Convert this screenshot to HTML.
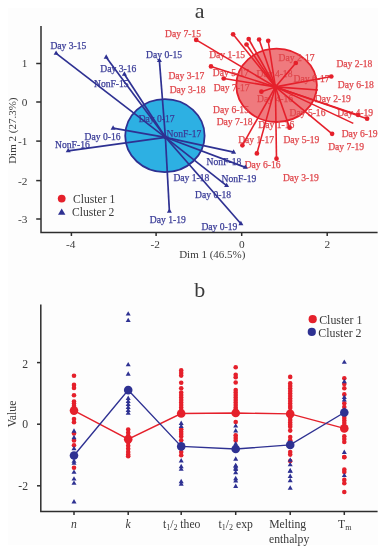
<!DOCTYPE html>
<html><head><meta charset="utf-8"><title>Cluster analysis figure</title>
<style>
html,body{margin:0;padding:0;background:#fff;}
body{width:385px;height:550px;overflow:hidden;}
svg{display:block;}
</style></head>
<body>
<svg width="385" height="550" viewBox="0 0 385 550">
<rect x="0" y="0" width="385" height="550" fill="#ffffff"/>
<rect x="8" y="8" width="370" height="537" fill="#fdfdfd"/>
<ellipse cx="164.9" cy="135.7" rx="39.7" ry="36.5" fill="#2db0e3" stroke="#2e3192" stroke-width="1.8"/>
<ellipse cx="276.6" cy="85.3" rx="40.3" ry="36.7" fill="#ef7a7e" stroke="#e5202b" stroke-width="1.8"/>
<g font-family="'Liberation Serif', serif" font-size="9.6" fill="#3b3d98" stroke="#3b3d98" stroke-width="0.25">
<text x="50.4" y="49.4">Day 3-15</text>
<text x="100.3" y="71.5">Day 3-16</text>
<text x="94.0" y="87.1">NonF-15</text>
<text x="146.1" y="58.0">Day 0-15</text>
<text x="138.7" y="121.7">Day 0-17</text>
<text x="166.6" y="136.7">NonF-17</text>
<text x="84.6" y="140.2">Day 0-16</text>
<text x="55.1" y="148.4">NonF-16</text>
<text x="206.6" y="164.5">NonF-18</text>
<text x="221.6" y="182.3">NonF-19</text>
<text x="173.4" y="181.3">Day 1-18</text>
<text x="195.1" y="198.4">Day 0-18</text>
<text x="149.8" y="223.3">Day 1-19</text>
<text x="201.4" y="230.4">Day 0-19</text>
</g>
<g font-family="'Liberation Serif', serif" font-size="9.6" fill="#e0474c" stroke="#e0474c" stroke-width="0.25">
<text x="165.0" y="37.2">Day 7-15</text>
<text x="209.2" y="57.7">Day 1-15</text>
<text x="212.8" y="76.0">Day 5-17</text>
<text x="213.7" y="90.9">Day 7-17</text>
<text x="168.4" y="78.5">Day 3-17</text>
<text x="169.7" y="93.0">Day 3-18</text>
<text x="278.6" y="61.4">Day 2-17</text>
<text x="256.5" y="77.4">Day 4-18</text>
<text x="293.6" y="81.8">Day 6-17</text>
<text x="336.4" y="66.5">Day 2-18</text>
<text x="337.8" y="88.0">Day 6-18</text>
<text x="257.1" y="102.1">Day 4-16</text>
<text x="314.8" y="101.8">Day 2-19</text>
<text x="289.5" y="116.3">Day 5-16</text>
<text x="337.2" y="115.6">Day 4-19</text>
<text x="213.0" y="112.8">Day 6-15</text>
<text x="216.7" y="125.2">Day 7-18</text>
<text x="258.3" y="127.5">Day 1-16</text>
<text x="341.7" y="136.5">Day 6-19</text>
<text x="238.2" y="142.7">Day 1-17</text>
<text x="283.4" y="142.5">Day 5-19</text>
<text x="328.2" y="150.0">Day 7-19</text>
<text x="244.7" y="168.0">Day 6-16</text>
<text x="282.9" y="181.0">Day 3-19</text>
</g>
<line x1="165.4" y1="137.3" x2="56.1" y2="53.4" stroke="#2e3192" stroke-width="1.7"/>
<line x1="165.4" y1="137.3" x2="106.2" y2="57.3" stroke="#2e3192" stroke-width="1.7"/>
<line x1="165.4" y1="137.3" x2="124.4" y2="74.2" stroke="#2e3192" stroke-width="1.7"/>
<line x1="165.4" y1="137.3" x2="159.4" y2="60.6" stroke="#2e3192" stroke-width="1.7"/>
<line x1="165.4" y1="137.3" x2="113.1" y2="128.2" stroke="#2e3192" stroke-width="1.7"/>
<line x1="165.4" y1="137.3" x2="68.2" y2="150.9" stroke="#2e3192" stroke-width="1.7"/>
<line x1="165.4" y1="137.3" x2="233.6" y2="152.2" stroke="#2e3192" stroke-width="1.7"/>
<line x1="165.4" y1="137.3" x2="245.3" y2="167.4" stroke="#2e3192" stroke-width="1.7"/>
<line x1="165.4" y1="137.3" x2="226.6" y2="185.6" stroke="#2e3192" stroke-width="1.7"/>
<line x1="165.4" y1="137.3" x2="240.9" y2="223.7" stroke="#2e3192" stroke-width="1.7"/>
<line x1="165.4" y1="137.3" x2="169.4" y2="211.4" stroke="#2e3192" stroke-width="1.7"/>
<line x1="275.4" y1="86.9" x2="196.2" y2="39.9" stroke="#e5202b" stroke-width="1.6"/>
<line x1="275.4" y1="86.9" x2="233.1" y2="34.3" stroke="#e5202b" stroke-width="1.6"/>
<line x1="275.4" y1="86.9" x2="248.7" y2="39.0" stroke="#e5202b" stroke-width="1.6"/>
<line x1="275.4" y1="86.9" x2="246.5" y2="44.5" stroke="#e5202b" stroke-width="1.6"/>
<line x1="275.4" y1="86.9" x2="259.1" y2="39.5" stroke="#e5202b" stroke-width="1.6"/>
<line x1="275.4" y1="86.9" x2="268.2" y2="40.8" stroke="#e5202b" stroke-width="1.6"/>
<line x1="275.4" y1="86.9" x2="295.8" y2="63.0" stroke="#e5202b" stroke-width="1.6"/>
<line x1="275.4" y1="86.9" x2="331.3" y2="76.5" stroke="#e5202b" stroke-width="1.6"/>
<line x1="275.4" y1="86.9" x2="211.0" y2="66.4" stroke="#e5202b" stroke-width="1.6"/>
<line x1="275.4" y1="86.9" x2="223.7" y2="78.5" stroke="#e5202b" stroke-width="1.6"/>
<line x1="275.4" y1="86.9" x2="261.4" y2="91.7" stroke="#e5202b" stroke-width="1.6"/>
<line x1="275.4" y1="86.9" x2="358.1" y2="115.0" stroke="#e5202b" stroke-width="1.6"/>
<line x1="275.4" y1="86.9" x2="367.1" y2="118.7" stroke="#e5202b" stroke-width="1.6"/>
<line x1="275.4" y1="86.9" x2="332.1" y2="133.8" stroke="#e5202b" stroke-width="1.6"/>
<line x1="275.4" y1="86.9" x2="289.6" y2="127.7" stroke="#e5202b" stroke-width="1.6"/>
<line x1="275.4" y1="86.9" x2="276.5" y2="158.7" stroke="#e5202b" stroke-width="1.6"/>
<line x1="275.4" y1="86.9" x2="256.9" y2="153.4" stroke="#e5202b" stroke-width="1.6"/>
<line x1="275.4" y1="86.9" x2="242.4" y2="145.3" stroke="#e5202b" stroke-width="1.6"/>
<line x1="275.4" y1="86.9" x2="353.3" y2="123.4" stroke="#e5202b" stroke-width="1.6"/>
<line x1="275.4" y1="86.9" x2="318" y2="90.0" stroke="#e5202b" stroke-width="1.6"/>
<path d="M53.60 54.87L58.60 54.87L56.10 50.47Z" fill="#2e3192"/>
<path d="M103.70 58.77L108.70 58.77L106.20 54.37Z" fill="#2e3192"/>
<path d="M121.90 75.67L126.90 75.67L124.40 71.27Z" fill="#2e3192"/>
<path d="M156.90 62.07L161.90 62.07L159.40 57.67Z" fill="#2e3192"/>
<path d="M110.60 129.67L115.60 129.67L113.10 125.27Z" fill="#2e3192"/>
<path d="M65.70 152.37L70.70 152.37L68.20 147.97Z" fill="#2e3192"/>
<path d="M231.10 153.67L236.10 153.67L233.60 149.27Z" fill="#2e3192"/>
<path d="M242.80 168.87L247.80 168.87L245.30 164.47Z" fill="#2e3192"/>
<path d="M224.10 187.07L229.10 187.07L226.60 182.67Z" fill="#2e3192"/>
<path d="M238.40 225.17L243.40 225.17L240.90 220.77Z" fill="#2e3192"/>
<path d="M166.90 212.87L171.90 212.87L169.40 208.47Z" fill="#2e3192"/>
<circle cx="196.2" cy="39.9" r="2.35" fill="#e5202b"/>
<circle cx="233.1" cy="34.3" r="2.35" fill="#e5202b"/>
<circle cx="248.7" cy="39.0" r="2.35" fill="#e5202b"/>
<circle cx="246.5" cy="44.5" r="2.35" fill="#e5202b"/>
<circle cx="259.1" cy="39.5" r="2.35" fill="#e5202b"/>
<circle cx="268.2" cy="40.8" r="2.35" fill="#e5202b"/>
<circle cx="295.8" cy="63.0" r="2.35" fill="#e5202b"/>
<circle cx="331.3" cy="76.5" r="2.35" fill="#e5202b"/>
<circle cx="211.0" cy="66.4" r="2.35" fill="#e5202b"/>
<circle cx="223.7" cy="78.5" r="2.35" fill="#e5202b"/>
<circle cx="261.4" cy="91.7" r="2.35" fill="#e5202b"/>
<circle cx="358.1" cy="115.0" r="2.35" fill="#e5202b"/>
<circle cx="367.1" cy="118.7" r="2.35" fill="#e5202b"/>
<circle cx="332.1" cy="133.8" r="2.35" fill="#e5202b"/>
<circle cx="289.6" cy="127.7" r="2.35" fill="#e5202b"/>
<circle cx="276.5" cy="158.7" r="2.35" fill="#e5202b"/>
<circle cx="256.9" cy="153.4" r="2.35" fill="#e5202b"/>
<circle cx="242.4" cy="145.3" r="2.35" fill="#e5202b"/>
<circle cx="165.4" cy="137.3" r="2" fill="#2e3192"/>
<circle cx="275.4" cy="86.9" r="2.6" fill="#e5202b"/>
<path d="M41 26V232.5H377.6" fill="none" stroke="#2e2e2e" stroke-width="1.5"/>
<line x1="36.2" y1="63.5" x2="41" y2="63.5" stroke="#2e2e2e" stroke-width="1.5"/>
<line x1="36.2" y1="102.0" x2="41" y2="102.0" stroke="#2e2e2e" stroke-width="1.5"/>
<line x1="36.2" y1="141.1" x2="41" y2="141.1" stroke="#2e2e2e" stroke-width="1.5"/>
<line x1="36.2" y1="180.6" x2="41" y2="180.6" stroke="#2e2e2e" stroke-width="1.5"/>
<line x1="36.2" y1="219.0" x2="41" y2="219.0" stroke="#2e2e2e" stroke-width="1.5"/>
<line x1="71.4" y1="232.5" x2="71.4" y2="236" stroke="#2e2e2e" stroke-width="1.5"/>
<line x1="156.1" y1="232.5" x2="156.1" y2="236" stroke="#2e2e2e" stroke-width="1.5"/>
<line x1="241.7" y1="232.5" x2="241.7" y2="236" stroke="#2e2e2e" stroke-width="1.5"/>
<line x1="327.2" y1="232.5" x2="327.2" y2="236" stroke="#2e2e2e" stroke-width="1.5"/>
<g font-family="'Liberation Serif', serif" font-size="11.3" fill="#3a3a3a">
<text x="27.4" y="67.4" text-anchor="end">1</text>
<text x="27.4" y="105.9" text-anchor="end">0</text>
<text x="27.4" y="145.0" text-anchor="end">-1</text>
<text x="27.4" y="184.5" text-anchor="end">-2</text>
<text x="27.4" y="222.9" text-anchor="end">-3</text>
<text x="70.6" y="248.2" text-anchor="middle">-4</text>
<text x="155.3" y="248.2" text-anchor="middle">-2</text>
<text x="241.9" y="248.2" text-anchor="middle">0</text>
<text x="327.4" y="248.2" text-anchor="middle">2</text>
</g>
<g font-family="'Liberation Serif', serif" font-size="11" fill="#3a3a3a">
<text x="212.3" y="258.2" text-anchor="middle">Dim 1 (46.5%)</text>
<text transform="translate(16.2 130.7) rotate(-90)" text-anchor="middle">Dim 2 (27.3%)</text>
</g>
<text x="199.6" y="17.9" text-anchor="middle" font-family="'Liberation Serif', serif" font-size="22" fill="#3a3a3a">a</text>
<circle cx="61.7" cy="198.6" r="3.9" fill="#e5202b"/>
<path d="M58.00 214.67L65.40 214.67L61.70 208.47Z" fill="#2e3192"/>
<g font-family="'Liberation Serif', serif" font-size="11.6" fill="#3a3a3a">
<text x="73.0" y="202.5">Cluster 1</text>
<text x="72.0" y="216.0">Cluster 2</text>
</g>
<text x="199.8" y="296.5" text-anchor="middle" font-family="'Liberation Serif', serif" font-size="22" fill="#3a3a3a">b</text>
<path d="M40.8 304.5V511.5H377.6" fill="none" stroke="#2e2e2e" stroke-width="1.5"/>
<line x1="37" y1="362.6" x2="40.8" y2="362.6" stroke="#2e2e2e" stroke-width="1.5"/>
<line x1="37" y1="424.2" x2="40.8" y2="424.2" stroke="#2e2e2e" stroke-width="1.5"/>
<line x1="37" y1="485.8" x2="40.8" y2="485.8" stroke="#2e2e2e" stroke-width="1.5"/>
<line x1="74.0" y1="511.5" x2="74.0" y2="515" stroke="#2e2e2e" stroke-width="1.5"/>
<line x1="128.2" y1="511.5" x2="128.2" y2="515" stroke="#2e2e2e" stroke-width="1.5"/>
<line x1="181.2" y1="511.5" x2="181.2" y2="515" stroke="#2e2e2e" stroke-width="1.5"/>
<line x1="235.7" y1="511.5" x2="235.7" y2="515" stroke="#2e2e2e" stroke-width="1.5"/>
<line x1="290.2" y1="511.5" x2="290.2" y2="515" stroke="#2e2e2e" stroke-width="1.5"/>
<line x1="344.3" y1="511.5" x2="344.3" y2="515" stroke="#2e2e2e" stroke-width="1.5"/>
<circle cx="74.0" cy="375.8" r="2.3" fill="#e5202b"/>
<circle cx="74.0" cy="384.9" r="2.3" fill="#e5202b"/>
<circle cx="74.0" cy="387.9" r="2.3" fill="#e5202b"/>
<circle cx="74.0" cy="395.3" r="2.3" fill="#e5202b"/>
<circle cx="74.0" cy="401.6" r="2.3" fill="#e5202b"/>
<circle cx="74.0" cy="403.5" r="2.3" fill="#e5202b"/>
<circle cx="74.0" cy="406.1" r="2.3" fill="#e5202b"/>
<circle cx="74.0" cy="408" r="2.3" fill="#e5202b"/>
<circle cx="74.0" cy="419.1" r="2.3" fill="#e5202b"/>
<circle cx="74.0" cy="422.3" r="2.3" fill="#e5202b"/>
<circle cx="74.0" cy="433.4" r="2.3" fill="#e5202b"/>
<circle cx="74.0" cy="440.5" r="2.3" fill="#e5202b"/>
<circle cx="74.0" cy="445.3" r="2.3" fill="#e5202b"/>
<circle cx="74.0" cy="467.7" r="2.3" fill="#e5202b"/>
<circle cx="128.2" cy="429.6" r="2.3" fill="#e5202b"/>
<circle cx="128.2" cy="432.7" r="2.3" fill="#e5202b"/>
<circle cx="128.2" cy="435.8" r="2.3" fill="#e5202b"/>
<circle cx="128.2" cy="442.6" r="2.3" fill="#e5202b"/>
<circle cx="128.2" cy="445.7" r="2.3" fill="#e5202b"/>
<circle cx="128.2" cy="448.8" r="2.3" fill="#e5202b"/>
<circle cx="128.2" cy="451.9" r="2.3" fill="#e5202b"/>
<circle cx="128.2" cy="454.6" r="2.3" fill="#e5202b"/>
<circle cx="128.2" cy="456.2" r="2.3" fill="#e5202b"/>
<circle cx="181.2" cy="370.4" r="2.3" fill="#e5202b"/>
<circle cx="181.2" cy="373" r="2.3" fill="#e5202b"/>
<circle cx="181.2" cy="375.6" r="2.3" fill="#e5202b"/>
<circle cx="181.2" cy="382.7" r="2.3" fill="#e5202b"/>
<circle cx="181.2" cy="388.3" r="2.3" fill="#e5202b"/>
<circle cx="181.2" cy="392.5" r="2.3" fill="#e5202b"/>
<circle cx="181.2" cy="395" r="2.3" fill="#e5202b"/>
<circle cx="181.2" cy="397.5" r="2.3" fill="#e5202b"/>
<circle cx="181.2" cy="400" r="2.3" fill="#e5202b"/>
<circle cx="181.2" cy="402.5" r="2.3" fill="#e5202b"/>
<circle cx="181.2" cy="405" r="2.3" fill="#e5202b"/>
<circle cx="181.2" cy="407.5" r="2.3" fill="#e5202b"/>
<circle cx="181.2" cy="410" r="2.3" fill="#e5202b"/>
<circle cx="181.2" cy="429.3" r="2.3" fill="#e5202b"/>
<circle cx="181.2" cy="431.7" r="2.3" fill="#e5202b"/>
<circle cx="181.2" cy="434" r="2.3" fill="#e5202b"/>
<circle cx="181.2" cy="436.4" r="2.3" fill="#e5202b"/>
<circle cx="181.2" cy="440.3" r="2.3" fill="#e5202b"/>
<circle cx="181.2" cy="452" r="2.3" fill="#e5202b"/>
<circle cx="181.2" cy="455.3" r="2.3" fill="#e5202b"/>
<circle cx="235.7" cy="367.3" r="2.3" fill="#e5202b"/>
<circle cx="235.7" cy="374.7" r="2.3" fill="#e5202b"/>
<circle cx="235.7" cy="377.3" r="2.3" fill="#e5202b"/>
<circle cx="235.7" cy="382.5" r="2.3" fill="#e5202b"/>
<circle cx="235.7" cy="390" r="2.3" fill="#e5202b"/>
<circle cx="235.7" cy="392.5" r="2.3" fill="#e5202b"/>
<circle cx="235.7" cy="395" r="2.3" fill="#e5202b"/>
<circle cx="235.7" cy="397.5" r="2.3" fill="#e5202b"/>
<circle cx="235.7" cy="400" r="2.3" fill="#e5202b"/>
<circle cx="235.7" cy="402.5" r="2.3" fill="#e5202b"/>
<circle cx="235.7" cy="405" r="2.3" fill="#e5202b"/>
<circle cx="235.7" cy="407.5" r="2.3" fill="#e5202b"/>
<circle cx="235.7" cy="409.5" r="2.3" fill="#e5202b"/>
<circle cx="235.7" cy="422" r="2.3" fill="#e5202b"/>
<circle cx="235.7" cy="435.3" r="2.3" fill="#e5202b"/>
<circle cx="235.7" cy="437.9" r="2.3" fill="#e5202b"/>
<circle cx="235.7" cy="440.5" r="2.3" fill="#e5202b"/>
<circle cx="290.2" cy="376.9" r="2.3" fill="#e5202b"/>
<circle cx="290.2" cy="383.4" r="2.3" fill="#e5202b"/>
<circle cx="290.2" cy="386" r="2.3" fill="#e5202b"/>
<circle cx="290.2" cy="388.5" r="2.3" fill="#e5202b"/>
<circle cx="290.2" cy="391" r="2.3" fill="#e5202b"/>
<circle cx="290.2" cy="393.5" r="2.3" fill="#e5202b"/>
<circle cx="290.2" cy="396" r="2.3" fill="#e5202b"/>
<circle cx="290.2" cy="398.5" r="2.3" fill="#e5202b"/>
<circle cx="290.2" cy="401" r="2.3" fill="#e5202b"/>
<circle cx="290.2" cy="403.5" r="2.3" fill="#e5202b"/>
<circle cx="290.2" cy="406" r="2.3" fill="#e5202b"/>
<circle cx="290.2" cy="408" r="2.3" fill="#e5202b"/>
<circle cx="290.2" cy="417.6" r="2.3" fill="#e5202b"/>
<circle cx="290.2" cy="420" r="2.3" fill="#e5202b"/>
<circle cx="290.2" cy="422.5" r="2.3" fill="#e5202b"/>
<circle cx="290.2" cy="424.7" r="2.3" fill="#e5202b"/>
<circle cx="290.2" cy="426.7" r="2.3" fill="#e5202b"/>
<circle cx="290.2" cy="430.6" r="2.3" fill="#e5202b"/>
<circle cx="290.2" cy="437.1" r="2.3" fill="#e5202b"/>
<circle cx="290.2" cy="440.3" r="2.3" fill="#e5202b"/>
<circle cx="290.2" cy="452" r="2.3" fill="#e5202b"/>
<circle cx="290.2" cy="454.6" r="2.3" fill="#e5202b"/>
<circle cx="290.2" cy="461.1" r="2.3" fill="#e5202b"/>
<circle cx="344.3" cy="378.3" r="2.3" fill="#e5202b"/>
<circle cx="344.3" cy="384" r="2.3" fill="#e5202b"/>
<circle cx="344.3" cy="388.3" r="2.3" fill="#e5202b"/>
<circle cx="344.3" cy="394.4" r="2.3" fill="#e5202b"/>
<circle cx="344.3" cy="403.2" r="2.3" fill="#e5202b"/>
<circle cx="344.3" cy="407.1" r="2.3" fill="#e5202b"/>
<circle cx="344.3" cy="415.4" r="2.3" fill="#e5202b"/>
<circle cx="344.3" cy="418" r="2.3" fill="#e5202b"/>
<circle cx="344.3" cy="420.5" r="2.3" fill="#e5202b"/>
<circle cx="344.3" cy="423" r="2.3" fill="#e5202b"/>
<circle cx="344.3" cy="426.4" r="2.3" fill="#e5202b"/>
<circle cx="344.3" cy="436.2" r="2.3" fill="#e5202b"/>
<circle cx="344.3" cy="439" r="2.3" fill="#e5202b"/>
<circle cx="344.3" cy="442" r="2.3" fill="#e5202b"/>
<circle cx="344.3" cy="457" r="2.3" fill="#e5202b"/>
<circle cx="344.3" cy="457.3" r="2.3" fill="#e5202b"/>
<circle cx="344.3" cy="469.5" r="2.3" fill="#e5202b"/>
<circle cx="344.3" cy="471.9" r="2.3" fill="#e5202b"/>
<circle cx="344.3" cy="479.9" r="2.3" fill="#e5202b"/>
<circle cx="344.3" cy="483.3" r="2.3" fill="#e5202b"/>
<circle cx="344.3" cy="492" r="2.3" fill="#e5202b"/>
<path d="M71.50 432.77L76.50 432.77L74.00 428.37Z" fill="#2e3192"/>
<path d="M71.50 439.27L76.50 439.27L74.00 434.87Z" fill="#2e3192"/>
<path d="M71.50 450.27L76.50 450.27L74.00 445.87Z" fill="#2e3192"/>
<path d="M71.50 462.77L76.50 462.77L74.00 458.37Z" fill="#2e3192"/>
<path d="M71.50 464.77L76.50 464.77L74.00 460.37Z" fill="#2e3192"/>
<path d="M71.50 473.87L76.50 473.87L74.00 469.47Z" fill="#2e3192"/>
<path d="M71.50 480.57L76.50 480.57L74.00 476.17Z" fill="#2e3192"/>
<path d="M71.50 484.87L76.50 484.87L74.00 480.47Z" fill="#2e3192"/>
<path d="M71.50 503.47L76.50 503.47L74.00 499.07Z" fill="#2e3192"/>
<path d="M125.70 315.57L130.70 315.57L128.20 311.17Z" fill="#2e3192"/>
<path d="M125.70 322.07L130.70 322.07L128.20 317.67Z" fill="#2e3192"/>
<path d="M125.70 366.37L130.70 366.37L128.20 361.97Z" fill="#2e3192"/>
<path d="M125.70 375.77L130.70 375.77L128.20 371.37Z" fill="#2e3192"/>
<path d="M125.70 399.97L130.70 399.97L128.20 395.57Z" fill="#2e3192"/>
<path d="M125.70 402.97L130.70 402.97L128.20 398.57Z" fill="#2e3192"/>
<path d="M125.70 405.97L130.70 405.97L128.20 401.57Z" fill="#2e3192"/>
<path d="M125.70 408.97L130.70 408.97L128.20 404.57Z" fill="#2e3192"/>
<path d="M125.70 411.97L130.70 411.97L128.20 407.57Z" fill="#2e3192"/>
<path d="M125.70 414.77L130.70 414.77L128.20 410.37Z" fill="#2e3192"/>
<path d="M178.70 424.97L183.70 424.97L181.20 420.57Z" fill="#2e3192"/>
<path d="M178.70 427.97L183.70 427.97L181.20 423.57Z" fill="#2e3192"/>
<path d="M178.70 462.47L183.70 462.47L181.20 458.07Z" fill="#2e3192"/>
<path d="M178.70 468.27L183.70 468.27L181.20 463.87Z" fill="#2e3192"/>
<path d="M178.70 470.87L183.70 470.87L181.20 466.47Z" fill="#2e3192"/>
<path d="M178.70 483.17L183.70 483.17L181.20 478.77Z" fill="#2e3192"/>
<path d="M178.70 485.77L183.70 485.77L181.20 481.37Z" fill="#2e3192"/>
<path d="M233.20 427.57L238.20 427.57L235.70 423.17Z" fill="#2e3192"/>
<path d="M233.20 432.47L238.20 432.47L235.70 428.07Z" fill="#2e3192"/>
<path d="M233.20 445.47L238.20 445.47L235.70 441.07Z" fill="#2e3192"/>
<path d="M233.20 460.67L238.20 460.67L235.70 456.27Z" fill="#2e3192"/>
<path d="M233.20 467.17L238.20 467.17L235.70 462.77Z" fill="#2e3192"/>
<path d="M233.20 469.77L238.20 469.77L235.70 465.37Z" fill="#2e3192"/>
<path d="M233.20 467.77L238.20 467.77L235.70 463.37Z" fill="#2e3192"/>
<path d="M233.20 471.07L238.20 471.07L235.70 466.67Z" fill="#2e3192"/>
<path d="M233.20 474.27L238.20 474.27L235.70 469.87Z" fill="#2e3192"/>
<path d="M233.20 480.17L238.20 480.17L235.70 475.77Z" fill="#2e3192"/>
<path d="M233.20 482.47L238.20 482.47L235.70 478.07Z" fill="#2e3192"/>
<path d="M233.20 487.97L238.20 487.97L235.70 483.57Z" fill="#2e3192"/>
<path d="M287.70 461.77L292.70 461.77L290.20 457.37Z" fill="#2e3192"/>
<path d="M287.70 466.37L292.70 466.37L290.20 461.97Z" fill="#2e3192"/>
<path d="M287.70 472.77L292.70 472.77L290.20 468.37Z" fill="#2e3192"/>
<path d="M287.70 472.47L292.70 472.47L290.20 468.07Z" fill="#2e3192"/>
<path d="M287.70 477.97L292.70 477.97L290.20 473.57Z" fill="#2e3192"/>
<path d="M287.70 482.27L292.70 482.27L290.20 477.87Z" fill="#2e3192"/>
<path d="M287.70 489.67L292.70 489.67L290.20 485.27Z" fill="#2e3192"/>
<path d="M341.80 363.87L346.80 363.87L344.30 359.47Z" fill="#2e3192"/>
<path d="M341.80 383.17L346.80 383.17L344.30 378.77Z" fill="#2e3192"/>
<path d="M341.80 398.97L346.80 398.97L344.30 394.57Z" fill="#2e3192"/>
<path d="M341.80 401.57L346.80 401.57L344.30 397.17Z" fill="#2e3192"/>
<path d="M341.80 411.67L346.80 411.67L344.30 407.27Z" fill="#2e3192"/>
<path d="M341.80 453.97L346.80 453.97L344.30 449.57Z" fill="#2e3192"/>
<path d="M341.80 477.07L346.80 477.07L344.30 472.67Z" fill="#2e3192"/>
<polyline points="74.0,410.6 128.2,439.2 181.2,413.5 235.7,413.0 290.2,413.9 344.3,428.4" fill="none" stroke="#e5202b" stroke-width="1.4"/>
<polyline points="74.0,455.5 128.2,390.1 181.2,446.4 235.7,449.0 290.2,444.9 344.3,412.5" fill="none" stroke="#2e3192" stroke-width="1.4"/>
<circle cx="74.0" cy="410.6" r="4.3" fill="#e5202b"/>
<circle cx="128.2" cy="439.2" r="4.3" fill="#e5202b"/>
<circle cx="181.2" cy="413.5" r="4.3" fill="#e5202b"/>
<circle cx="235.7" cy="413.0" r="4.3" fill="#e5202b"/>
<circle cx="290.2" cy="413.9" r="4.3" fill="#e5202b"/>
<circle cx="344.3" cy="428.4" r="4.3" fill="#e5202b"/>
<circle cx="74.0" cy="455.5" r="4.3" fill="#2e3192"/>
<circle cx="128.2" cy="390.1" r="4.3" fill="#2e3192"/>
<circle cx="181.2" cy="446.4" r="4.3" fill="#2e3192"/>
<circle cx="235.7" cy="449.0" r="4.3" fill="#2e3192"/>
<circle cx="290.2" cy="444.9" r="4.3" fill="#2e3192"/>
<circle cx="344.3" cy="412.5" r="4.3" fill="#2e3192"/>
<circle cx="312.7" cy="319.2" r="4.1" fill="#e5202b"/>
<circle cx="311.8" cy="331.9" r="4.1" fill="#2e3192"/>
<g font-family="'Liberation Serif', serif" font-size="11.9" fill="#3a3a3a">
<text x="319.2" y="323.9">Cluster 1</text>
<text x="318.3" y="336.6">Cluster 2</text>
</g>
<g font-family="'Liberation Serif', serif" font-size="11.7" fill="#3a3a3a">
<text x="28" y="367.9" text-anchor="end">2</text>
<text x="28" y="428.0" text-anchor="end">0</text>
<text x="28" y="489.6" text-anchor="end">-2</text>
<text transform="translate(15.7 414) rotate(-90)" text-anchor="middle">Value</text>
<text x="74.0" y="528.4" text-anchor="middle" font-style="italic">n</text>
<text x="128.2" y="528.4" text-anchor="middle" font-style="italic">k</text>
<text x="181.7" y="528.4" text-anchor="middle">t<tspan font-size="8" dy="2">1</tspan><tspan dy="-2">/</tspan><tspan font-size="8" dy="2">2</tspan><tspan dy="-2"> theo</tspan></text>
<text x="235.7" y="528.4" text-anchor="middle">t<tspan font-size="8" dy="2">1</tspan><tspan dy="-2">/</tspan><tspan font-size="8" dy="2">2</tspan><tspan dy="-2"> exp</tspan></text>
<text x="287.7" y="528.4" text-anchor="middle">Melting</text>
<text x="289.2" y="542.8" text-anchor="middle">enthalpy</text>
<text x="344.8" y="528.4" text-anchor="middle">T<tspan font-size="8" dy="2">m</tspan></text>
</g>
</svg>
</body></html>
